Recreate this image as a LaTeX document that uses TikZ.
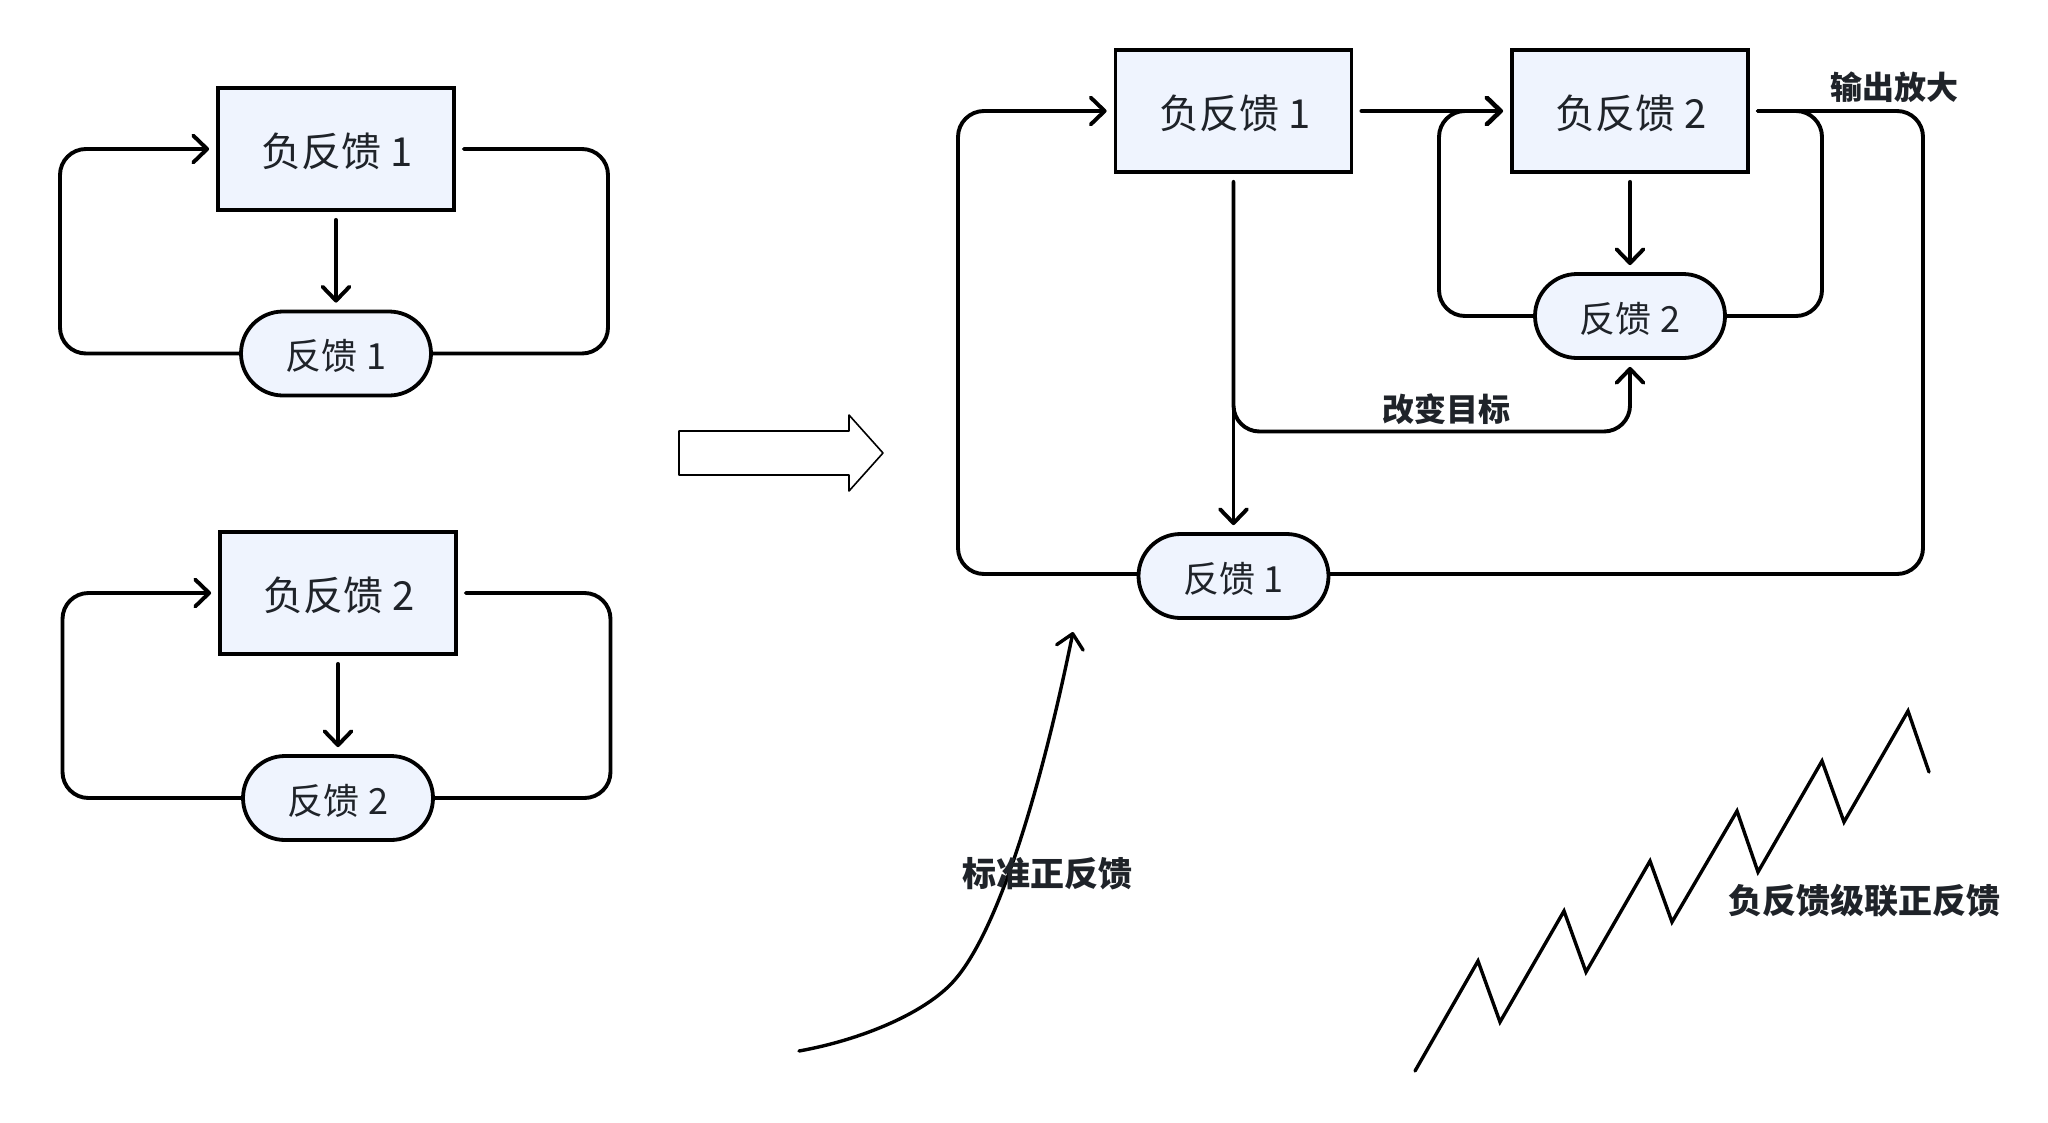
\documentclass[tikz,border=0pt]{standalone}
\usepackage{fontspec}
\setmainfont{Noto Sans CJK SC}
\usetikzlibrary{arrows.meta,shapes.misc}
\definecolor{boxfill}{RGB}{239,244,254}
\definecolor{inktext}{RGB}{31,35,41}
\tikzset{
  negbox/.style={draw=black,fill=boxfill,line width=3.8pt,minimum width=236pt,minimum height=122pt,inner sep=0pt,text=inktext,text height=36pt,text depth=0.4pt,font=\fontsize{40}{48}\selectfont,execute at begin node=\hspace*{3pt}},
  fbpill/.style={draw=black,fill=boxfill,line width=3.8pt,rounded rectangle,minimum width=190pt,minimum height=84pt,inner sep=0pt,text=inktext,text height=32.5pt,text depth=0pt,font=\fontsize{36}{44}\selectfont},
  tag/.style={inner sep=0pt,text=inktext,font=\fontsize{32}{40}\selectfont\bfseries},
  bigtag/.style={tag,font=\fontsize{34}{40}\selectfont\bfseries},
  link/.style={line width=3.9pt,line cap=round,rounded corners=26pt},
  linkto/.style={link,-{Straight Barb[length=14pt,width=27pt,round]}},
}
\begin{document}
\begin{tikzpicture}[x=1pt,y=1pt,yscale=-1,xscale=1]
\useasboundingbox (0,0) rectangle (2048,1122);

% left upper loop
\node[negbox] (negA) at (336,149) {负反馈 1};
\node[fbpill] (fbA) at (336,353.5) {反馈 1};
\coordinate (leftA) at (60,250);
\coordinate (rightA) at (608,250);
\draw[linkto,shorten <=8pt,shorten >=7pt] (negA.south) -- (fbA.north);
\draw[linkto,shorten >=7pt] (fbA.west) -| (leftA) |- (negA.west);
\draw[link,shorten >=8pt] (fbA.east) -| (rightA) |- (negA.east);

% left lower loop
\node[negbox] (negB) at (338,593) {负反馈 2};
\node[fbpill] (fbB) at (338,798) {反馈 2};
\coordinate (leftB) at (62.5,700);
\coordinate (rightB) at (610.5,700);
\draw[linkto,shorten <=8pt,shorten >=7pt] (negB.south) -- (fbB.north);
\draw[linkto,shorten >=7pt] (fbB.west) -| (leftB) |- (negB.west);
\draw[link,shorten >=8pt] (fbB.east) -| (rightB) |- (negB.east);

% hollow arrow
\draw[line width=1.6pt,line join=round,fill=white] (679,431) -- (849,431) -- (849,415) -- (883,453) -- (849,491) -- (849,475) -- (679,475) -- cycle;

% right side
\node[negbox] (negC) at (1233.5,111) {负反馈 1};
\node[negbox] (negD) at (1630,111) {负反馈 2};
\node[fbpill] (fbD) at (1630,316) {反馈 2};
\node[fbpill] (fbC) at (1233.5,576) {反馈 1};
\coordinate (leftC) at (958,300);
\coordinate (rightC) at (1923,300);
\coordinate (leftD) at (1439,200);
\coordinate (rightD) at (1822,200);
\coordinate (turnC) at (1233.5,431.5);
\draw[linkto,shorten >=8pt] (negC.east) ++(8,0) -- (negD.west);
\draw[linkto,shorten <=8pt,shorten >=7pt] (negC.south) -- (fbC.north);
\draw[linkto,shorten <=8pt,shorten >=7pt] (negD.south) -- (fbD.north);
\draw[linkto,shorten >=7pt] ([yshift=-2pt]fbC.west) -| (leftC) |- (negC.west);
\draw[linkto,shorten >=7pt] (fbD.west) -| (leftD) |- (negD.west);
\draw[link,shorten >=8pt] (fbD.east) -| (rightD) |- (negD.east);
\draw[link,shorten >=8pt] ([yshift=-2pt]fbC.east) -| (rightC) |- (negD.east);
\draw[linkto,shorten <=8pt,shorten >=7pt] (negC.south) -- (turnC) -- (turnC -| fbD.south) -- (fbD.south);

% text
\node[tag] (tagOut) at (1894,87) {输出放大};
\node[tag] (tagGoal) at (1446,409) {改变目标};

% curves below
\draw[line width=3.4pt,line cap=round,-{Straight Barb[length=14pt,width=27pt,round]}] (799,1051) .. controls (860,1040) and (920,1015) .. (950,985) .. controls (1000,935) and (1045,770) .. (1073,632);
\draw[line width=3.4pt,line cap=round,line join=miter] (1415,1071) -- (1478,961) -- (1500,1022) -- (1564,911) -- (1586,972) -- (1650,861) -- (1672,922) -- (1737,811) -- (1758,872) -- (1822,761) -- (1844,822) -- (1908,711) -- (1929,772);
\node[bigtag] (tagStd) at (1047,874) {标准正反馈};
\node[bigtag] (tagCas) at (1864,901) {负反馈级联正反馈};
\end{tikzpicture}
\end{document}
